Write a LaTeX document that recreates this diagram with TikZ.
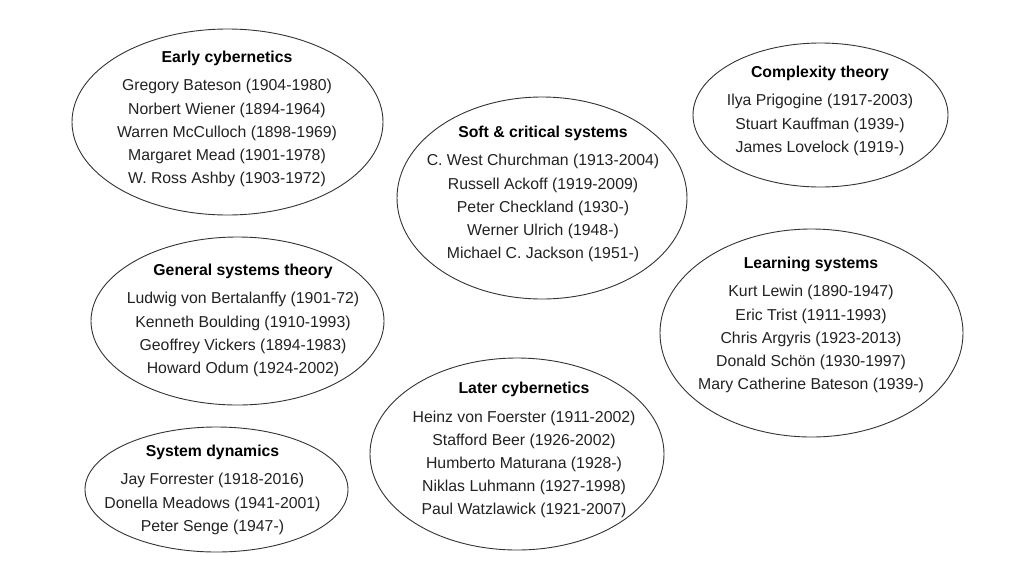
\documentclass[tikz,border=0pt]{standalone}
\usepackage{fontspec}
\setmainfont{Liberation Sans}
\usetikzlibrary{shapes.geometric}
\definecolor{edgegray}{HTML}{333333}
\definecolor{txtgray}{HTML}{222222}
\tikzset{
  bubble/.style={draw=edgegray, line width=0.9pt, ellipse, inner sep=0pt, fill=none},
  names/.style={align=center, inner sep=0pt, text=txtgray,
    font=\fontsize{15.8}{23.2}\selectfont},
}
\newcommand{\ttl}[1]{\textbf{\color{black}#1}\\[5.2pt]}
\begin{document}
\begin{tikzpicture}[x=1pt,y=-1pt]
\useasboundingbox (0,0) rectangle (1035,582);
\fill[white] (0,0) rectangle (1035,582);

% ellipses
\node[bubble, minimum width=311pt, minimum height=186pt] (early) at (227.5,122) {};
\node[bubble, minimum width=255pt, minimum height=144pt] (complex) at (820.5,115) {};
\node[bubble, minimum width=290pt, minimum height=202pt] (soft) at (542,198) {};
\node[bubble, minimum width=293pt, minimum height=168pt] (general) at (237.5,321) {};
\node[bubble, minimum width=303pt, minimum height=208pt] (learning) at (811.5,333) {};
\node[bubble, minimum width=294pt, minimum height=192pt] (later) at (517,454) {};
\node[bubble, minimum width=263pt, minimum height=125pt] (sysdyn) at (216.5,489.5) {};

% texts
\node[names] (early-t) at (227,119.1) {\ttl{Early cybernetics}Gregory Bateson (1904-1980)\\Norbert Wiener (1894-1964)\\Warren McCulloch (1898-1969)\\Margaret Mead (1901-1978)\\W. Ross Ashby (1903-1972)};
\node[names] (complex-t) at (820,110.9) {\ttl{Complexity theory}Ilya Prigogine (1917-2003)\\Stuart Kauffman (1939-)\\James Lovelock (1919-)};
\node[names] (soft-t) at (543,194.1) {\ttl{Soft \& critical systems}C. West Churchman (1913-2004)\\Russell Ackoff (1919-2009)\\Peter Checkland (1930-)\\Werner Ulrich (1948-)\\Michael C. Jackson (1951-)};
\node[names] (general-t) at (243,320.5) {\ttl{General systems theory}Ludwig von Bertalanffy (1901-72)\\Kenneth Boulding (1910-1993)\\Geoffrey Vickers (1894-1983)\\Howard Odum (1924-2002)};
\node[names] (learning-t) at (811,325.1) {\ttl{Learning systems}Kurt Lewin (1890-1947)\\Eric Trist (1911-1993)\\Chris Argyris (1923-2013)\\Donald Schön (1930-1997)\\Mary Catherine Bateson (1939-)};
\node[names] (later-t) at (524,450.1) {\ttl{Later cybernetics}Heinz von Foerster (1911-2002)\\Stafford Beer (1926-2002)\\Humberto Maturana (1928-)\\Niklas Luhmann (1927-1998)\\Paul Watzlawick (1921-2007)};
\node[names] (sysdyn-t) at (212.5,489.9) {\ttl{System dynamics}Jay Forrester (1918-2016)\\Donella Meadows (1941-2001)\\Peter Senge (1947-)};
\end{tikzpicture}
\end{document}
